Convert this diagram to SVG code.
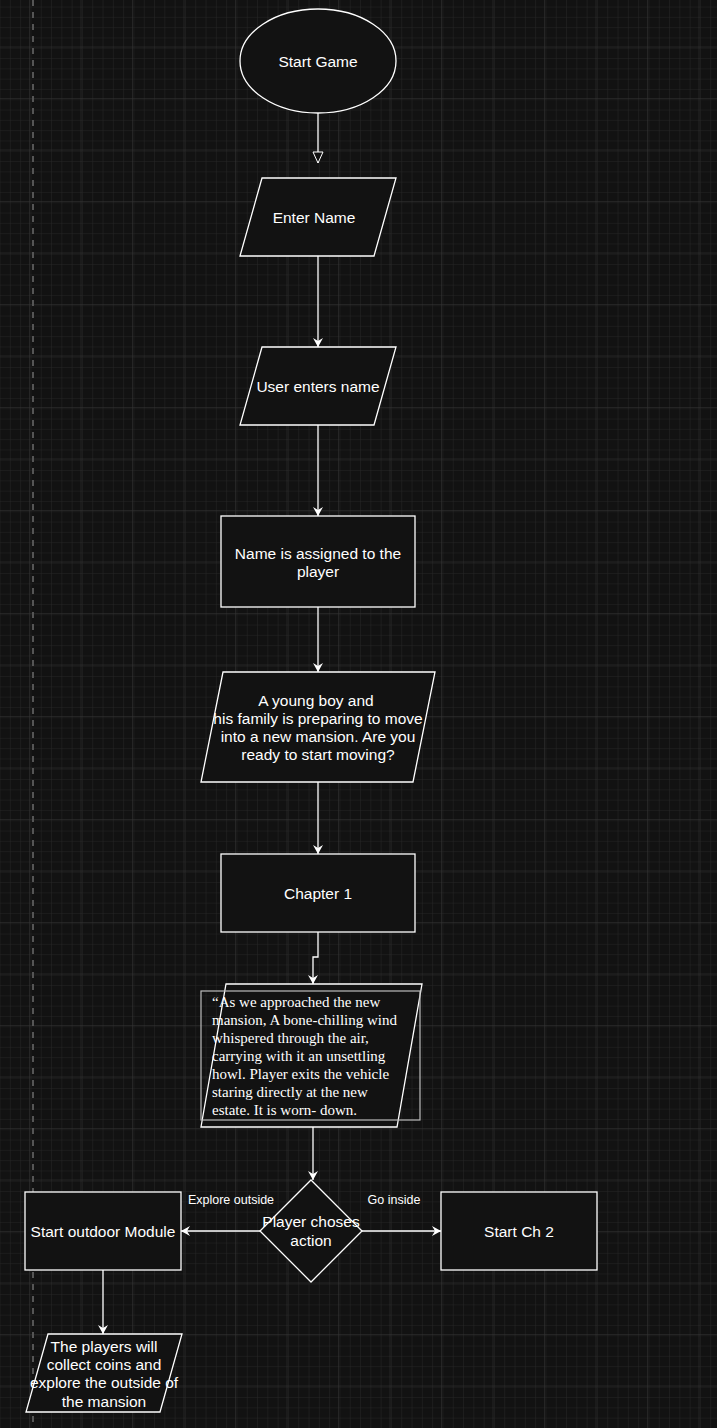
<svg xmlns="http://www.w3.org/2000/svg" width="717" height="1428" viewBox="0 0 717 1428">
<defs>
<pattern id="minor" x="0.5" y="7.5" width="10.3" height="10.3" patternUnits="userSpaceOnUse"><path d="M10.3 0V10.3M0 10.3H10.3" stroke="#262626" stroke-width="1" fill="none"/></pattern>
<pattern id="major" x="30" y="-4" width="51.5" height="51.5" patternUnits="userSpaceOnUse"><path d="M51.5 0V51.5M0 51.5H51.5" stroke="#363636" stroke-width="1" fill="none"/></pattern>
<marker id="a" markerWidth="10" markerHeight="10" refX="9" refY="5" orient="auto" markerUnits="userSpaceOnUse"><path d="M0 0L9 5L0 10L3 5Z" fill="#fff"/></marker>
<marker id="h" markerWidth="14" markerHeight="12" refX="12" refY="6" orient="auto" markerUnits="userSpaceOnUse"><path d="M1 1L12 6L1 11Z" fill="#121212" stroke="#fff"/></marker>
</defs>
<style>
.s{fill:#121212;stroke:#fff;stroke-width:1.3}
.c{stroke:#fff;stroke-width:1.3;fill:none}
.t{font-family:"Liberation Sans",Arial,sans-serif;font-size:15.5px;fill:#fff;text-anchor:middle}
.l{font-family:"Liberation Sans",Arial,sans-serif;font-size:12.5px;fill:#fff;text-anchor:middle}
.n{font-family:"Liberation Serif","Times New Roman",serif;font-size:15px;fill:#fff}
</style>
<rect width="717" height="1428" fill="#121212"/>
<rect width="717" height="1428" fill="url(#minor)"/>
<rect width="717" height="1428" fill="url(#major)"/>
<line x1="33" y1="0" x2="33" y2="1428" stroke="#555" stroke-width="2" stroke-dasharray="6 6"/>
<g id="connectors">
<path class="c" d="M318 113V163" marker-end="url(#h)"/>
<path class="c" d="M318 256V347" marker-end="url(#a)"/>
<path class="c" d="M318 425V516" marker-end="url(#a)"/>
<path class="c" d="M318 607V672" marker-end="url(#a)"/>
<path class="c" d="M318 782V854" marker-end="url(#a)"/>
<path class="c" d="M318 932V957H313V984" marker-end="url(#a)"/>
<path class="c" d="M313 1127V1180" marker-end="url(#a)"/>
<path class="c" d="M260 1231H181" marker-end="url(#a)"/>
<path class="c" d="M362 1231H441" marker-end="url(#a)"/>
<path class="c" d="M103 1270V1334" marker-end="url(#a)"/>
<text class="l" x="231" y="1204">Explore outside</text>
<text class="l" x="394" y="1204">Go inside</text>
</g>
<g id="start"><ellipse class="s" cx="318" cy="61" rx="78" ry="52"/><text class="t" x="318" y="67">Start Game</text></g>
<g id="enterName"><path class="s" d="M262 178H396L374 256H240Z"/><text class="t" x="314" y="223">Enter Name</text></g>
<g id="userEnters"><path class="s" d="M262 347H396L374 425H240Z"/><text class="t" x="318" y="392">User enters name</text></g>
<g id="assign"><rect class="s" x="221" y="516" width="194" height="91"/><text class="t" x="318" y="559">Name is assigned to the</text><text class="t" x="318" y="577">player</text></g>
<g id="intro"><path class="s" d="M223 672H435L413 782H201Z"/>
<text class="t" x="316" y="706">A young boy and</text><text class="t" x="318" y="724">his family is preparing to move</text><text class="t" x="318" y="742">into a new mansion. Are you</text><text class="t" x="318" y="760">ready to start moving?</text></g>
<g id="ch1"><rect class="s" x="221" y="854" width="194" height="78"/><text class="t" x="318" y="899">Chapter 1</text></g>
<g id="narrative"><path class="s" d="M226 984H422L397 1127H201Z"/><rect x="201" y="991" width="219" height="129" fill="none" stroke="#bbb" stroke-width="1.2"/>
<text class="n" x="212" y="1007">“As we approached the new</text>
<text class="n" x="212" y="1025">mansion, A bone-chilling wind</text>
<text class="n" x="212" y="1043">whispered through the air,</text>
<text class="n" x="212" y="1061">carrying with it an unsettling</text>
<text class="n" x="212" y="1079">howl. Player exits the vehicle</text>
<text class="n" x="212" y="1097">staring directly at the new</text>
<text class="n" x="212" y="1115">estate. It is worn- down.</text></g>
<g id="decision"><path class="s" d="M311 1180L362 1231L311 1282L260 1231Z"/><text class="t" x="311" y="1227">Player choses</text><text class="t" x="311" y="1246">action</text></g>
<g id="outdoor"><rect class="s" x="25" y="1192" width="156" height="78"/><text class="t" x="103" y="1237">Start outdoor Module</text></g>
<g id="ch2"><rect class="s" x="441" y="1192" width="156" height="78"/><text class="t" x="519" y="1237">Start Ch 2</text></g>
<g id="coins"><path class="s" d="M48 1334H182L160 1412H26Z"/><text class="t" x="104" y="1352">The players will</text><text class="t" x="104" y="1370">collect coins and</text><text class="t" x="104" y="1388">explore the outside of</text><text class="t" x="104" y="1407">the mansion</text></g>
</svg>
